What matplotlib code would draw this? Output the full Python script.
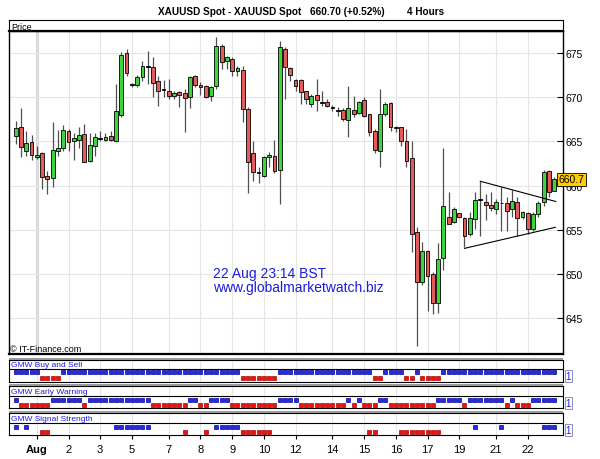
import numpy as np
import matplotlib
matplotlib.use('Agg')
import matplotlib.pyplot as plt
from matplotlib.patches import Rectangle

# 4 hour bars, XAUUSD, 1 Aug - 22 Aug
opens = [665.64, 666.58, 663.94, 664.89, 663.19, 663.64, 661.04, 660.81, 663.94, 664.25,
         666.13, 665.00, 665.15, 665.83, 662.77, 664.47, 665.34, 665.15, 665.57, 665.00,
         668.02, 674.96, 671.40, 671.42, 672.32, 673.45, 673.40, 671.80, 670.90, 670.74,
         670.10, 670.60, 670.44, 669.99, 672.36, 671.42, 671.30, 670.17, 671.23, 675.76,
         674.06, 674.32, 673.00, 673.11, 668.67, 663.65, 661.45, 661.05, 663.20, 663.38,
         661.80, 675.50, 673.27, 671.95, 671.98, 670.67, 669.23, 670.25, 669.45, 669.42,
         668.80, 668.50, 668.55, 667.42, 668.55, 668.18, 669.72, 668.10, 666.21, 663.95,
         668.10, 669.34, 666.66, 666.59, 665.00, 663.12, 654.72, 649.06, 652.57, 650.00,
         646.68, 651.81, 656.49, 655.85, 656.87, 656.33, 654.52, 656.22, 658.40, 658.11,
         657.81, 657.35, 658.02, 658.00, 657.35, 658.11, 656.41, 656.90, 655.09, 656.79,
         658.11, 661.61, 659.43]
highs = [667.26, 668.77, 666.13, 665.72, 664.51, 663.75, 661.68, 667.15, 666.30, 666.89,
         666.40, 665.94, 666.58, 666.96, 665.94, 665.94, 666.13, 666.00, 666.20, 671.50,
         675.08, 675.45, 671.60, 672.51, 674.13, 675.20, 674.60, 672.36, 672.00, 672.06,
         670.67, 670.70, 670.93, 672.43, 672.50, 671.68, 671.40, 671.30, 676.78, 676.00,
         674.70, 674.51, 673.50, 673.57, 668.85, 665.00, 662.07, 663.38, 663.77, 665.16,
         676.40, 675.72, 673.40, 672.05, 672.05, 670.74, 670.36, 672.06, 670.74, 669.80,
         669.12, 668.85, 668.78, 671.30, 670.17, 669.60, 669.99, 668.15, 666.40, 670.93,
         669.42, 669.49, 666.70, 666.65, 666.40, 665.08, 655.28, 653.58, 652.71, 650.19,
         653.47, 664.25, 659.24, 657.54, 656.95, 656.40, 656.98, 659.24, 660.49, 659.05,
         659.24, 658.48, 659.81, 658.67, 659.50, 658.75, 657.10, 656.98, 656.98, 658.29,
         661.76, 661.76, 661.00]
lows = [664.70, 663.26, 663.38, 662.89, 663.00, 659.60, 659.04, 659.87, 663.38, 663.94,
        663.87, 662.92, 664.20, 662.62, 662.70, 663.38, 665.08, 665.00, 665.00, 664.96,
        667.72, 672.43, 671.20, 671.11, 671.87, 671.50, 670.00, 669.04, 670.00, 669.80,
        669.76, 668.85, 666.03, 668.78, 671.12, 670.25, 669.90, 669.60, 670.93, 673.19,
        673.19, 672.43, 672.43, 667.16, 659.13, 660.56, 660.26, 660.94, 662.07, 661.39,
        657.92, 669.80, 671.87, 670.74, 669.23, 669.23, 668.93, 668.48, 669.04, 668.85,
        668.48, 667.91, 667.27, 665.46, 667.72, 668.10, 667.79, 665.65, 663.65, 662.07,
        667.91, 666.14, 666.03, 664.51, 662.07, 652.45, 641.89, 648.70, 645.85, 645.48,
        645.55, 650.45, 655.60, 655.77, 656.35, 653.02, 654.33, 655.09, 654.33, 656.11,
        657.17, 656.79, 654.90, 654.90, 656.41, 654.33, 656.22, 654.52, 654.90, 656.41,
        657.73, 658.75, 659.36]
closes = [666.47, 664.40, 664.81, 663.45, 663.42, 661.00, 660.74, 664.06, 664.20, 666.32,
          664.89, 665.34, 665.72, 662.70, 664.55, 665.53, 665.30, 665.45, 665.15, 668.40,
          674.81, 672.70, 671.38, 672.32, 673.49, 673.42, 671.60, 670.74, 670.85, 670.17,
          670.48, 670.28, 669.90, 672.32, 671.42, 671.12, 670.00, 671.12, 675.83, 673.95,
          674.51, 672.93, 673.27, 668.67, 662.70, 661.57, 661.40, 663.27, 663.46, 661.69,
          675.64, 673.38, 672.55, 671.30, 670.55, 669.80, 670.17, 669.68, 669.38, 669.04,
          668.76, 668.46, 667.53, 668.78, 668.10, 669.42, 667.91, 666.03, 664.03, 668.10,
          669.23, 666.66, 666.48, 665.08, 662.82, 654.52, 649.06, 652.64, 649.81, 646.68,
          651.70, 657.73, 655.66, 657.35, 656.41, 654.33, 656.30, 658.37, 658.35, 657.84,
          657.47, 658.11, 657.98, 657.17, 658.29, 656.33, 656.98, 655.09, 656.79, 658.00,
          661.57, 659.24, 660.70]

day_labels = ['Aug', '2', '3', '5', '7', '8', '9', '10', '12', '14', '15', '16', '17', '19', '21', '22']
day_bars = [4, 10, 16, 22, 29, 35, 41, 47, 53, 60, 66, 72, 78, 84, 91, 97]
price_ticks = [645, 650, 655, 660, 665, 670, 675]
last_price = 660.70

# triangle drawn on the chart
tri_upper_x = [88, 102.3]
tri_upper_y = [660.49, 658.2]
tri_lower_x = [85, 102.2]
tri_lower_y = [652.9, 655.28]

# indicator signals as runs: b = blue (top row), r = red (bottom row), . = none
buy_sell_runs = [('b', 5), ('r', 4), ('b', 34), ('r', 7), ('b', 18), ('r', 2), ('b', 4),
                 ('r', 2), ('b', 1), ('r', 4), ('b', 22)]
early_warning_runs = [('b', 1), ('r', 6), ('b', 6), ('r', 1), ('b', 12), ('r', 7), ('b', 2),
                      ('r', 2), ('b', 4), ('r', 9), ('b', 4), ('r', 9), ('b', 1), ('r', 1),
                      ('b', 1), ('r', 3), ('b', 2), ('r', 9), ('b', 5), ('r', 1), ('b', 7),
                      ('r', 1), ('b', 1), ('r', 3), ('b', 5)]
strength_runs = [('b', 1), ('.', 1), ('b', 1), ('.', 2), ('r', 2), ('.', 12), ('b', 7), ('.', 6),
                 ('r', 1), ('.', 3), ('r', 1), ('.', 1), ('b', 5), ('r', 6), ('.', 18), ('r', 2),
                 ('.', 4), ('r', 8), ('.', 6), ('b', 1), ('.', 4), ('b', 1), ('.', 7), ('b', 3)]


def expand(runs):
    return ''.join(c * n for c, n in runs)


W, H = 600, 460
def fx(px):
    return px / W
def fy(py):
    return 1 - py / H

fig = plt.figure(figsize=(6, 4.6), dpi=100)
fig.patch.set_facecolor('white')

xmin, xmax = -1.27, 103.66
blue = '#1c1cdc'
grid_c = '#e6e6e6'

# ---- price panel
ax = fig.add_axes([fx(9), fy(355), (563 - 9) / W, (355 - 32) / H])
x = np.arange(len(opens))
o = np.array(opens); c = np.array(closes)
hi = np.array(highs); lo = np.array(lows)
ax.vlines(x, lo, hi, color='#505050', lw=0.9, zorder=3)
bottom = np.minimum(o, c)
height = np.maximum(np.abs(c - o), 0.09)
cols = np.where(c >= o, '#3fd43f', '#e25c5c')
cols = np.where(np.abs(c - o) < 0.1, 'black', cols)
ax.bar(x, height, bottom=bottom, width=0.72, color=cols, edgecolor='black', lw=0.6, zorder=4)

ax.plot(tri_upper_x, tri_upper_y, color='black', lw=0.8, zorder=5)
ax.plot(tri_lower_x, tri_lower_y, color='black', lw=0.8, zorder=5)

ax.set_xlim(xmin, xmax)
ax.set_ylim(640.95, 677.49)
ax.set_xticks(day_bars)
ax.set_xticklabels([])
ax.tick_params(axis='x', length=0)
ax.yaxis.tick_right()
ax.set_yticks(price_ticks)
ax.set_yticklabels([str(t) for t in price_ticks], fontsize=7.5, family='Liberation Sans')
ax.tick_params(axis='y', direction='in', length=4, pad=1.5, width=0.8)
ax.grid(True, color=grid_c, lw=0.8, zorder=0)
ax.axvline(day_bars[0], color='#c4c4c4', lw=1.8, zorder=1)
for s in ax.spines.values():
    s.set_linewidth(1.0)
ax.spines['bottom'].set_linewidth(1.6)

ax.text(102.9, last_price, '660.7', fontsize=7.5, family='Liberation Sans', va='center', ha='left',
        bbox=dict(boxstyle='square,pad=0.15', fc='#ffcc00', ec='black', lw=0.6),
        transform=ax.transData, clip_on=False, zorder=6)
ax.annotate('22 Aug 23:14 BST\nwww.globalmarketwatch.biz', xy=(fx(213), fy(281)), xycoords='figure fraction',
            color=blue, fontsize=10, family='Liberation Sans', va='center', ha='left', linespacing=1.05)
ax.text(fx(10), fy(350), '\u00a9 IT-Finance.com', transform=fig.transFigure, fontsize=6.5,
        family='Liberation Sans', va='center', ha='left')

# ---- price header
hax = fig.add_axes([fx(9), fy(32), (563 - 9) / W, 11 / H])
hax.set_xticks([]); hax.set_yticks([])
hax.text(0.004, 0.45, 'Price', fontsize=6.5, family='Liberation Sans', va='center', ha='left',
         transform=hax.transAxes)
hax.spines['bottom'].set_linewidth(1.6)

# ---- title
tkw = dict(fontsize=7.2, fontweight='bold', family='Liberation Sans', va='center', ha='left')
fig.text(fx(158), fy(12), 'XAUUSD Spot - XAUUSD Spot', **tkw)
fig.text(fx(310), fy(12), '660.70 (+0.52%)', **tkw)
fig.text(fx(407), fy(12), '4 Hours', **tkw)

# ---- indicator panels
panels = [('GMW Buy and Sell', buy_sell_runs, 361, 382.5, 370),
          ('GMW Early Warning', early_warning_runs, 387.3, 409.3, 397.3),
          ('GMW Signal Strength', strength_runs, 414, 436.3, 424.3)]
for name, runs, top, bot, line in panels:
    fig.add_artist(Rectangle((fx(9), fy(top)), (563 - 9) / W, 2 / H, transform=fig.transFigure,
                             fc='#9a9a9a', ec='none'))
    pax = fig.add_axes([fx(9), fy(bot), (563 - 9) / W, (bot - top) / H])
    hfrac = (bot - line) / (bot - top)
    sig = expand(runs)
    xb = [i for i, s in enumerate(sig) if s == 'b']
    xr = [i for i, s in enumerate(sig) if s == 'r']
    yb = (bot - (line + 3.3)) / (bot - top)
    yr = (bot - (line + 8.8)) / (bot - top)
    pax.plot(xb, [yb] * len(xb), 's', ms=3.4, mfc='#2a2ae6', mec='#0000a0', mew=0.5, ls='none')
    pax.plot(xr, [yr] * len(xr), 's', ms=3.4, mfc='#ee1111', mec='#b00000', mew=0.5, ls='none')
    pax.axhline(hfrac, color='black', lw=0.8)
    pax.set_xlim(xmin, xmax)
    pax.set_ylim(0, 1)
    pax.set_yticks([])
    pax.set_xticks(day_bars)
    pax.grid(True, axis='x', color=grid_c, lw=0.8, zorder=0)
    pax.tick_params(axis='x', length=0)
    pax.set_xticklabels([])
    pax.text(0.004, (hfrac + 1) / 2, name, color=blue, fontsize=6, family='Liberation Sans',
             va='center', ha='left', transform=pax.transAxes)
    fig.text(fx(568.5), fy((line + bot) / 2 + 1), '1', color=blue, fontsize=7, family='Liberation Sans',
             va='center', ha='center',
             bbox=dict(boxstyle='square,pad=0.1', fc='white', ec='#8c8cc8', lw=0.7))

# x tick labels on the last panel
pax.tick_params(axis='x', length=3, direction='out', pad=3)
pax.set_xticklabels(day_labels, fontsize=8, family='Liberation Sans')
pax.get_xticklabels()[0].set_fontweight('bold')

fig.savefig('out.png', dpi=100)
